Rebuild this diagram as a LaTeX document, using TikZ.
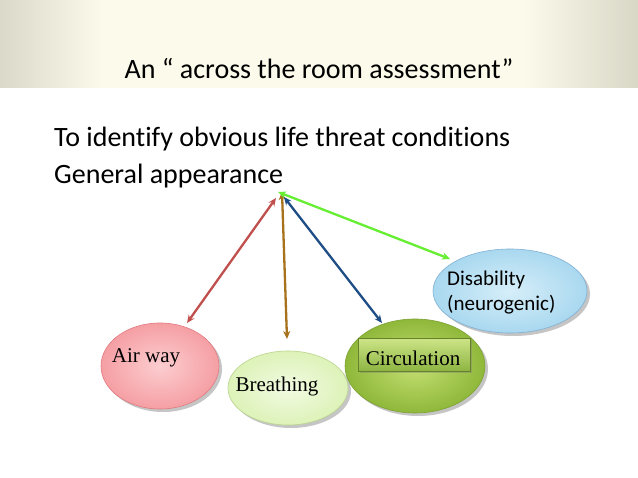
\documentclass[tikz,border=0pt]{standalone}
\usepackage{fontspec}
\setmainfont{Carlito}[Ligatures=CommonOff]
\newfontfamily\serifx{Liberation Serif}
\usetikzlibrary{shapes.geometric,arrows.meta,shadows}
\definecolor{hgray}{HTML}{7F7E6E}
\definecolor{hmid}{HTML}{BDBBAA}
\definecolor{cream}{HTML}{FCFAEA}
\pgfdeclarehorizontalshading{hdr}{100bp}{color(0bp)=(hgray); color(18bp)=(hmid); color(33bp)=(cream); color(66bp)=(cream); color(82bp)=(hmid); color(100bp)=(hgray)}
\definecolor{ared}{HTML}{C0504D}
\definecolor{abrown}{HTML}{A8721C}
\definecolor{ablue}{HTML}{1F4E86}
\definecolor{agreen}{HTML}{66EE33}
\definecolor{pinkin}{HTML}{FCCDCF}
\definecolor{pinkout}{HTML}{F59FA4}
\definecolor{pinkdraw}{HTML}{E07A80}
\definecolor{brin}{HTML}{F2FBE2}
\definecolor{brout}{HTML}{DDF2B8}
\definecolor{brdraw}{HTML}{B9D58E}
\definecolor{cin}{HTML}{C4DF72}
\definecolor{cout}{HTML}{8FB83A}
\definecolor{cdraw}{HTML}{7EA236}
\definecolor{boxtop}{HTML}{CDE486}
\definecolor{boxbot}{HTML}{8CB442}
\definecolor{din}{HTML}{D6EEF9}
\definecolor{dout}{HTML}{A9D8EF}
\definecolor{ddraw}{HTML}{7FB0D4}
\tikzset{
  blob/.style={ellipse, draw, line width=0.6pt, drop shadow={shadow xshift=3pt, shadow yshift=-3pt, opacity=0.45, fill=gray}},
  arr/.style={{Stealth[length=8pt,width=7pt]}-{Stealth[length=8pt,width=7pt]}, line width=2.3pt},
  stxt/.style={font=\serifx\fontsize{21}{24}\selectfont, inner sep=0pt},
  btxt/.style={font=\fontsize{28}{32}\selectfont, anchor=base west, inner sep=0pt}
}
\begin{document}
\begin{tikzpicture}[x=1pt,y=-1pt]
\useasboundingbox (0,0) rectangle (638,478);
\fill[white] (0,0) rectangle (638,478);
\shade[shading=hdr] (0,0) rectangle (638,88);
\node[font=\fontsize{28}{32}\selectfont, anchor=base, inner sep=0pt] (title) at (319,79) {An “ across the room assessment”};
\node[btxt] (l1) at (54,147) {To identify obvious life threat conditions};
\node[btxt] (l2) at (54,184) {General appearance};
% ellipses
\node[blob, draw=pinkdraw, inner color=pinkin, outer color=pinkout, minimum width=118pt, minimum height=86pt] (air) at (160,366) {};
\node[stxt] (airt) at (146,358) {Air way};
\node[blob, draw=brdraw, inner color=brin, outer color=brout, minimum width=120pt, minimum height=74pt] (br) at (288,388) {};
\node[stxt] (brt) at (277,386) {Breathing};
\node[blob, draw=cdraw, inner color=cin, outer color=cout, minimum width=140pt, minimum height=94pt] (circ) at (415,366) {};
\node[draw=cdraw!80!black, line width=0.6pt, top color=boxtop, bottom color=boxbot, minimum width=112pt, minimum height=33pt, inner sep=0pt, drop shadow={shadow xshift=2pt, shadow yshift=-2pt, opacity=0.4, fill=gray}] (circbox) at (414,355) {};
\node[stxt] (circt) at (413,358) {Circulation};
\node[blob, draw=ddraw, inner color=din, outer color=dout, minimum width=154pt, minimum height=84pt] (dis) at (510,291) {};
\node[font=\fontsize{21}{25}\selectfont, align=left, anchor=west, inner sep=0pt] (dist) at (447,293) {Disability\\(neurogenic)};
% connectors
\coordinate (hub) at (282,192);
\coordinate (ta) at (187,323);
\coordinate (tb) at (287,339);
\coordinate (tc) at (382,323);
\coordinate (td) at (450,259);
\draw[arr, ared] ([shift={(-6,6)}]hub) -- (ta);
\draw[arr, abrown] (hub) -- (tb);
\draw[arr, ablue] ([shift={(2,5)}]hub) -- (tc);
\draw[arr, agreen] ([shift={(-4,0)}]hub) -- (td);
\end{tikzpicture}
\end{document}
